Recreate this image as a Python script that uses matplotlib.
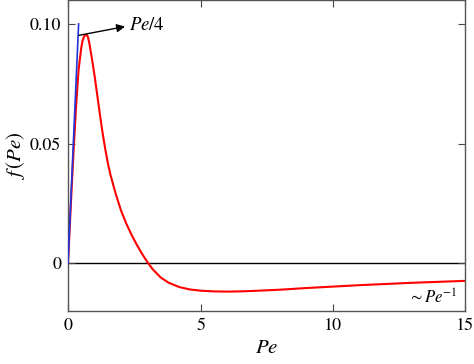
import numpy as np
import matplotlib
matplotlib.use('Agg')
import matplotlib.pyplot as plt

# values
pe = [0, 0.1, 0.2, 0.3, 0.4, 0.5, 0.55, 0.6, 0.65, 0.7, 0.75, 0.8, 0.9,
      1.0, 1.1, 1.2, 1.3, 1.4, 1.5, 1.6, 1.8, 2.0, 2.2, 2.4, 2.6, 2.8, 3.0,
      3.2, 3.5, 3.8, 4.2, 4.6, 5.0, 5.5, 6.0, 6.5, 7.0, 8.0, 9.0, 10, 11,
      12, 13, 14, 15]
f_pe = [0, 0.023, 0.045, 0.065, 0.081, 0.090, 0.0930, 0.0946, 0.0953,
        0.0955, 0.0946, 0.0922, 0.0857, 0.0785, 0.0705, 0.0625, 0.0548,
        0.048, 0.042, 0.037, 0.029, 0.022, 0.0165, 0.0118, 0.0076, 0.0038,
        0.0004, -0.0026, -0.0060, -0.0082, -0.0100, -0.0110, -0.0115,
        -0.0118, -0.0119, -0.0118, -0.0116, -0.0111, -0.0104, -0.0098,
        -0.0092, -0.0087, -0.0082, -0.0078, -0.0074]
pe_lin = [0, 0.4]
lin = [0, 0.1]

plt.rcParams['font.family'] = 'STIXGeneral'
plt.rcParams['mathtext.fontset'] = 'stix'

fig = plt.figure(figsize=(4.74, 3.64), dpi=100)
ax = fig.add_axes([0.1435, 0.1456, 0.8385, 0.8544])

ax.axhline(0, color='black', lw=1.0, zorder=1)
ax.plot(pe, f_pe, color='red', lw=1.5, zorder=2)
ax.plot(pe_lin, lin, color='#2233dd', lw=1.2, zorder=3)

# arrow pointing to the Pe/4 label
ax.annotate('', xy=(2.15, 0.0989), xytext=(0.4, 0.0952),
            arrowprops=dict(arrowstyle='-|>', color='black', lw=1.0,
                            mutation_scale=12, shrinkA=0, shrinkB=0))
ax.text(2.3, 0.0992, '$Pe/4$', fontsize=13.5, va='center')
ax.text(14.7, -0.0145, r'$\sim Pe^{-1}$', fontsize=12, ha='right', va='center')

ax.set_xlim(0, 15)
ax.set_ylim(-0.02, 0.110)
ax.set_xticks([0, 5, 10, 15])
ax.set_xticklabels(['0', '5', '10', '15'])
ax.set_yticks([0, 0.05, 0.10])
ax.set_yticklabels(['0', '0.05', '0.10'])
ax.tick_params(direction='in', top=True, right=True, length=5, labelsize=13,
               color='#444444', pad=5)
for s in ax.spines.values():
    s.set_color('#555555')
    s.set_linewidth(1.0)

ax.set_xlabel('$Pe$', fontsize=15, labelpad=3)
ax.set_ylabel('$f\\,(Pe)$', fontsize=15, labelpad=2)

fig.savefig('out.png', dpi=100)
